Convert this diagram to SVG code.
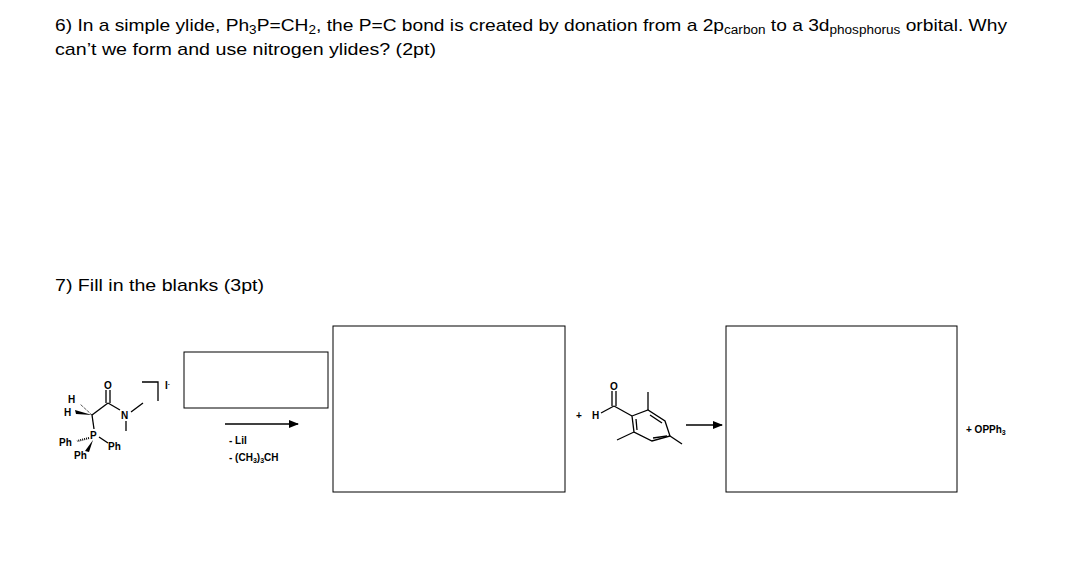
<svg xmlns="http://www.w3.org/2000/svg" width="1069" height="570" viewBox="0 0 1069 570">
<defs>
<style>
.t{font-family:"Liberation Sans",Arial,sans-serif;font-size:17px;fill:#000}
.c{font-family:"Liberation Sans",Arial,sans-serif;font-size:10px;font-weight:bold;fill:#000}
.b{fill:none;stroke:#000;stroke-width:1}
.l{stroke:#000;stroke-width:1.3;fill:none}
</style>
<marker id="ah" markerWidth="10" markerHeight="8" refX="9" refY="4" orient="auto" markerUnits="userSpaceOnUse"><path d="M0,0 L10,4 L0,8 Z" fill="#000"/></marker>
</defs>
<rect width="1069" height="570" fill="#fff"/>
<text class="t" x="55" y="31" textLength="952" lengthAdjust="spacingAndGlyphs">6) In a simple ylide, Ph<tspan font-size="12" dy="3">3</tspan><tspan dy="-3">P=CH</tspan><tspan font-size="12" dy="3">2</tspan><tspan dy="-3">, the P=C bond is created by donation from a 2p</tspan><tspan font-size="12" dy="3">carbon</tspan><tspan dy="-3"> to a 3d</tspan><tspan font-size="12" dy="3">phosphorus</tspan><tspan dy="-3"> orbital. Why</tspan></text>
<text class="t" x="55" y="55" textLength="381" lengthAdjust="spacingAndGlyphs">can’t we form and use nitrogen ylides? (2pt)</text>
<text class="t" x="55" y="291" textLength="209" lengthAdjust="spacingAndGlyphs">7) Fill in the blanks (3pt)</text>
<g id="reactant1">
<line class="l" x1="106" y1="390" x2="106" y2="403"/><line class="l" x1="110" y1="390" x2="110" y2="403"/>
<text class="c" x="104" y="389">O</text>
<line class="l" x1="108" y1="403" x2="92" y2="415"/>
<line class="l" x1="108" y1="403" x2="120" y2="410"/>
<text class="c" x="121" y="419">N</text>
<line class="l" x1="131" y1="412" x2="143" y2="403"/>
<line class="l" x1="126" y1="421" x2="126" y2="431"/>
<path d="M92,415 L75,410 L76,414 Z" fill="#000"/>
<line stroke="#000" stroke-width="1" stroke-dasharray="1,1" x1="92" y1="415" x2="80" y2="404"/>
<text class="c" x="68" y="403">H</text>
<text class="c" x="64" y="416">H</text>
<line class="l" x1="92" y1="415" x2="94" y2="429"/>
<text class="c" x="90" y="439">P</text>
<line class="l" x1="99" y1="437" x2="108" y2="443"/>
<text class="c" x="108" y="450">Ph</text>
<line stroke="#000" stroke-width="2" stroke-dasharray="1,1" x1="89" y1="438" x2="77" y2="441"/>
<text class="c" x="59" y="446">Ph</text>
<path d="M93,440 L85,451 L89,452 Z" fill="#000"/>
<text class="c" x="74" y="459">Ph</text>
<path class="l" d="M142,382 H158 V401"/>
<text class="c" x="165" y="389" font-weight="normal">I<tspan font-size="6" dy="-3">-</tspan></text>
</g>
<g id="box1"><rect class="b" x="184" y="352" width="144" height="56"/></g>
<g id="box2"><rect class="b" x="333" y="326" width="232" height="166"/></g>
<g id="box3"><rect class="b" x="726" y="326" width="231" height="166"/></g>
<g id="reagents">
<text class="c" x="229" y="444">- LiI</text>
<text class="c" x="229" y="461">- (CH<tspan font-size="7" dy="2">3</tspan><tspan dy="-2">)</tspan><tspan font-size="7" dy="2">3</tspan><tspan dy="-2">CH</tspan></text>
</g>
<g id="aldehyde">
<text class="c" x="576" y="419">+</text>
<text class="c" x="592" y="419">H</text>
<line class="l" x1="601" y1="413" x2="614" y2="406"/>
<line class="l" x1="612" y1="391" x2="612" y2="406"/><line class="l" x1="616" y1="391" x2="616" y2="406"/>
<text class="c" x="610" y="390">O</text>
<line class="l" x1="614" y1="406" x2="632" y2="416"/>
<path class="l" d="M632,416 L648,410 L665,421 L670,436 L652,441 L634,432 Z"/>
<line class="l" x1="650" y1="415" x2="662" y2="423"/>
<line class="l" x1="667" y1="436" x2="653" y2="438"/>
<line class="l" x1="636" y1="419" x2="637" y2="430"/>
<line class="l" x1="648" y1="410" x2="648" y2="392"/>
<line class="l" x1="634" y1="432" x2="617" y2="440"/>
<line class="l" x1="670" y1="436" x2="682" y2="444"/>
</g>
<g id="product"><text class="c" x="966" y="433">+ OPPh<tspan font-size="7" dy="2">3</tspan></text></g>
<g id="connectors">
<line class="l" x1="225" y1="424" x2="298" y2="424" marker-end="url(#ah)"/>
<line class="l" x1="686" y1="425" x2="722" y2="425" marker-end="url(#ah)"/>
</g>
</svg>
